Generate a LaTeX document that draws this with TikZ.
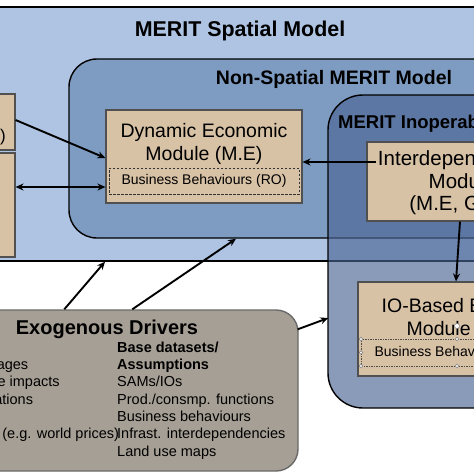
\documentclass[tikz,border=0pt]{standalone}
\usepackage{fontspec}
\setmainfont{Liberation Sans}
\usetikzlibrary{arrows.meta,calc}
\definecolor{outerblue}{RGB}{174,196,226}
\definecolor{midblue}{RGB}{126,155,193}
\definecolor{inopblue}{RGB}{75,101,148}
\definecolor{tanfill}{RGB}{216,194,166}
\definecolor{taupe}{RGB}{166,159,149}
\definecolor{boxline}{RGB}{80,80,80}
\definecolor{exoline}{RGB}{105,105,105}
\begin{document}
\begin{tikzpicture}[x=1pt,y=-1pt,
  region/.style={draw=black, line width=1.4pt, inner sep=0pt},
  modbox/.style={draw=boxline, fill=tanfill, line width=1.1pt, inner sep=0pt},
  bbbox/.style={draw=black!80, dash pattern=on 2.5pt off 1.5pt, line width=0.7pt, inner sep=0pt, font=\fontsize{14}{16}\selectfont},
  titletext/.style={font=\bfseries\fontsize{19.5}{23}\selectfont, inner sep=0pt},
  modtext/.style={font=\fontsize{19.5}{22.8}\selectfont, align=center, inner sep=0pt},
  listtext/.style={font=\fontsize{14.5}{17.3}\selectfont, align=left, inner sep=0pt, anchor=north west},
  arr/.style={line width=1.9pt, -{Stealth[length=8pt,width=7pt]}},
  dblarr/.style={line width=1.9pt, {Stealth[length=8pt,width=7pt]}-{Stealth[length=8pt,width=7pt]}},
  handle/.style={circle, draw=gray, fill=white, line width=0.5pt, inner sep=0pt, minimum size=3.5pt}
]
\useasboundingbox (0,0) rectangle (474,474);
\clip (0,0) rectangle (474,474);

% regions
\node[region, fill=outerblue, minimum width=540pt, minimum height=254pt] (outer) at (250,134) {};
\node[titletext, font=\bfseries\fontsize{21.4}{25}\selectfont] (outertitle) at (240,31) {MERIT Spatial Model};

\node[region, fill=midblue, rounded corners=28pt, minimum width=491pt, minimum height=179pt] (ns) at (314.5,148.5) {};
\node[titletext] (nstitle) at (334,79) {Non-Spatial MERIT Model};

\node[region, fill=inopblue, fill opacity=0.65, rounded corners=35pt, minimum width=272pt, minimum height=313pt] (inop) at (464,251.5) {};
\node[titletext, font=\bfseries\fontsize{18.5}{22}\selectfont, anchor=west] (inoptitle) at (338,124) {MERIT Inoperability Model};

% left (cropped) boxes
\node[modbox, minimum width=35pt, minimum height=56pt] (left1) at (-2.5,122) {};
\node[font=\fontsize{17}{20}\selectfont, inner sep=0pt, anchor=east] (left1text) at (6,137) {(GIS)};
\node[modbox, minimum width=35pt, minimum height=104pt] (left2) at (-2.5,205) {};

% dynamic economic module
\node[modbox, minimum width=196pt, minimum height=93pt] (dyn) at (204,156.5) {};
\node[modtext] (dyntext) at (204,144) {Dynamic Economic\\Module (M.E)};
\node[bbbox, minimum width=190pt, minimum height=26pt] (dynbb) at (204,181) {Business Behaviours (RO)};

% interdependency module
\node[modbox, minimum width=193pt, minimum height=79pt] (int) at (463.5,181.5) {};
\node[modtext, font=\fontsize{20.5}{22.6}\selectfont] (inttext) at (462.3,183) {Interdependencies\\Module\\(M.E, GNS)};

% IO-based module
\node[modbox, minimum width=202pt, minimum height=94pt] (io) at (459,329) {};
\node[modtext, align=left, anchor=north west] (iotext) at (381.5,298) {IO-Based Economic\\\hspace*{25pt}Module};
\node[bbbox, dash pattern=on 2pt off 1.2pt on 0.6pt off 1.2pt, draw=black!70, minimum width=192pt, minimum height=27pt] (iobb) at (457,352.5) {Business Behaviours (RO)};
\node[handle] (h1) at (361,339) {};
\node[handle] (h2) at (361,352.5) {};
\node[handle] (h3) at (361,366) {};
\node[handle] (h4) at (457,339) {};
\node[handle] (h5) at (457,366) {};
\node[handle, minimum size=5pt] (hrot) at (457,326) {};

% exogenous drivers
\node[draw=exoline, fill=taupe, line width=1.4pt, rounded corners=22pt, minimum width=338pt, minimum height=161pt, inner sep=0pt] (exo) at (129,390.5) {};
\node[titletext, font=\bfseries\fontsize{20}{24}\selectfont] (exotitle) at (107,329.6) {Exogenous Drivers};
\node[listtext] (exoleft) at (-113,341.5) {\textbf{Scenarios}\\Infrastructure outages\\Structural damage impacts\\Residential relocations\\Policy options\\Overseas shocks (e.g. world prices)};
\node[listtext] (exoright) at (117,341.5) {\textbf{Base datasets/}\\\textbf{Assumptions}\\SAMs/IOs\\Prod./consmp. functions\\Business behaviours\\Infrast. interdependencies\\Land use maps};

% connectors
\draw[arr] ($(left1.east)+(0,-2)$) -- ($(dyn.west)+(0,1.5)$);
\draw[dblarr] ($(left2.east)+(0,-18)$) -- ($(dyn.west)+(0,30.5)$);
\draw[arr] ($(int.west)+(10,-19.5)$) -- ($(dyn.east)+(0,5.5)$);
\draw[arr] ($(exo.north west)+(105,0)$) -- ($(outer.south)+(-145,0)$);
\draw[arr] ($(exo.north west)+(173,0)$) -- ($(ns.south)+(-78.5,0)$);
\draw[arr] ($(exo.north east)+(-1,20)$) -- ($(inop.west)+(1,66.5)$);
\draw[arr] ($(int.south)+(-3.5,0)$) -- ($(io.north)+(-3,0)$);
\end{tikzpicture}
\end{document}
